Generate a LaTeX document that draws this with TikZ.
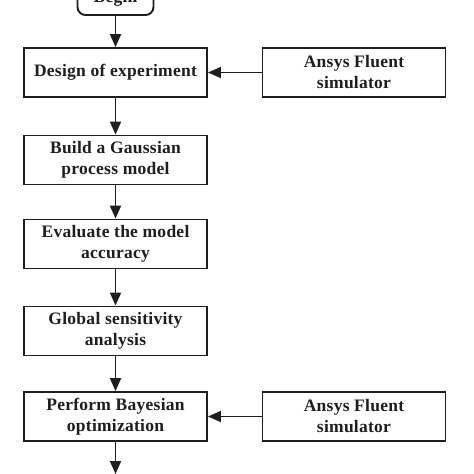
\documentclass[tikz,border=0pt]{standalone}
\usepackage{fontspec}
\setmainfont{Liberation Serif}[LetterSpace=1.5]
\usetikzlibrary{arrows.meta}
\definecolor{ink}{HTML}{1E1E1E}
\begin{document}
\begin{tikzpicture}[x=1pt,y=-1pt,
  box/.style={draw=ink, line width=1.9pt, minimum width=183pt, minimum height=49pt,
    align=center, font=\fontsize{17.5}{21}\selectfont\bfseries, text=ink, inner sep=0pt},
  term/.style={box, rounded corners=8pt, minimum width=76pt, minimum height=34pt},
  flow/.style={draw=ink, line width=1.9pt, -{Triangle[length=13pt,width=11pt]}}]
\fill[white] (0,0) rectangle (474,474);
\clip (0,0) rectangle (474,474);
\node[term] (begin) at (115.5,-2) {Begin};
\node[box] (doe) at (115.5,72.5) {Design of experiment};
\node[box] (ans1) at (354,72.5) {Ansys Fluent\\simulator};
\node[box] (gp) at (115.5,160) {Build a Gaussian\\process model};
\node[box] (eval) at (115.5,244) {Evaluate the model\\accuracy};
\node[box] (gsa) at (115.5,331) {Global sensitivity\\analysis};
\node[box] (bo) at (115.5,416.5) {Perform Bayesian\\optimization};
\node[box] (ans2) at (354,416.5) {Ansys Fluent\\simulator};
\coordinate (end) at (115.5,474);
\draw[flow] (begin) -- (doe);
\draw[flow] (ans1) -- (doe);
\draw[flow] (doe) -- (gp);
\draw[flow] (gp) -- (eval);
\draw[flow] (eval) -- (gsa);
\draw[flow] (gsa) -- (bo);
\draw[flow] (ans2) -- (bo);
\draw[flow] (bo) -- (end);
\end{tikzpicture}
\end{document}
